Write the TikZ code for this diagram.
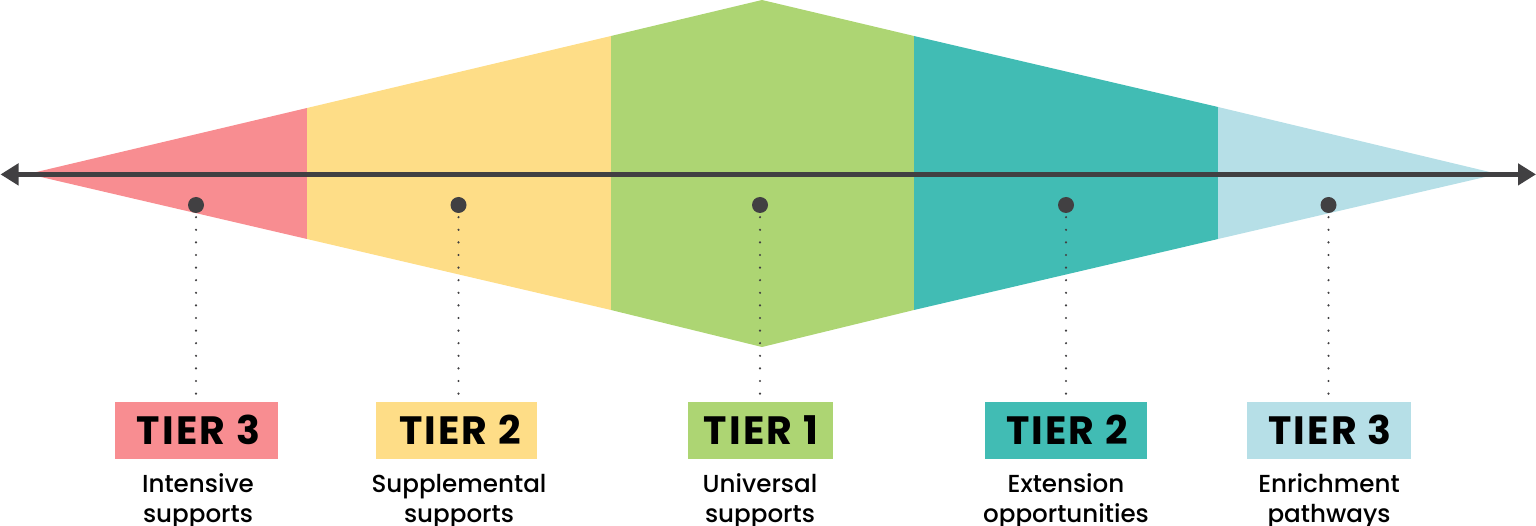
\documentclass[tikz,border=0pt]{standalone}
\usepackage{fontspec}
\setmainfont{Poppins}
\newfontfamily\tierfont[LetterSpace=5.5]{Poppins Bold}
\newfontfamily\capfont{Poppins Medium}
\usetikzlibrary{arrows.meta}
\definecolor{cred}{HTML}{F88D91}
\definecolor{cyel}{HTML}{FEDD87}
\definecolor{cgrn}{HTML}{ADD573}
\definecolor{ctea}{HTML}{41BCB4}
\definecolor{cblu}{HTML}{B6DFE7}
\definecolor{cdark}{HTML}{414042}
\tikzset{
  tierbox/.style={minimum height=57pt,inner sep=0pt,font=\fontsize{39.5}{39.5}\selectfont\tierfont,text=black},
  caption/.style={anchor=base,align=center,inner sep=0pt,font=\fontsize{24.6}{30}\selectfont\capfont,text=black},
  pin/.style={circle,fill=cdark,minimum size=16pt,inner sep=0pt},
  leader/.style={cdark,line width=2.4pt,line cap=round,dash pattern=on 0pt off 12.6pt,shorten >=5pt,shorten <=4pt},
  axis/.style={cdark,line width=5pt,{Triangle[length=18pt,width=21pt]}-{Triangle[length=18pt,width=21pt]}}
}
\begin{document}
\begin{tikzpicture}[x=1pt,y=-1pt]
\clip (0,0) rectangle (1536,526);
\fill[cred] (28,174) -- (307,108) -- (307,239) -- cycle;
\fill[cyel] (307,108) -- (611,36) -- (611,310) -- (307,239) -- cycle;
\fill[cgrn] (611,36) -- (762,0) -- (914,36) -- (914,310) -- (762,347) -- (611,310) -- cycle;
\fill[ctea] (914,36) -- (1218,107) -- (1218,239) -- (914,310) -- cycle;
\fill[cblu] (1218,107) -- (1498,174) -- (1218,239) -- cycle;
\coordinate (axl) at (0.5,174.4);
\coordinate (axr) at (1536,174.4);
\draw[axis] (axl) -- (axr);
\node[pin] (p1) at (196,205) {};
\node[pin] (p2) at (458.5,205) {};
\node[pin] (p3) at (760,205) {};
\node[pin] (p4) at (1066,205) {};
\node[pin] (p5) at (1328.5,205) {};
\node[tierbox,fill=cred,minimum width=163pt] (b1) at (196.5,430) {\hspace*{4pt}TIER 3};
\node[tierbox,fill=cyel,minimum width=161pt] (b2) at (456.5,430) {\hspace*{7pt}TIER 2};
\node[tierbox,fill=cgrn,minimum width=145pt] (b3) at (760.5,430) {\hspace*{1pt}TIER 1};
\node[tierbox,fill=ctea,minimum width=162pt] (b4) at (1066,430) {\hspace*{2pt}TIER 2};
\node[tierbox,fill=cblu,minimum width=164pt] (b5) at (1329,430) {\hspace*{2pt}TIER 3};
\draw[leader] (p1) -- (p1 |- b1.north);
\draw[leader] (p2) -- (p2 |- b2.north);
\draw[leader] (p3) -- (p3 |- b3.north);
\draw[leader] (p4) -- (p4 |- b4.north);
\draw[leader] (p5) -- (p5 |- b5.north);
\node[caption] (c1) at (198,522) {Intensive\\supports};
\node[caption] (c2) at (459,522) {Supplemental\\supports};
\node[caption] (c3) at (760,522) {Universal\\supports};
\node[caption] (c4) at (1066,522) {Extension\\opportunities};
\node[caption] (c5) at (1329,522) {Enrichment\\pathways};
\end{tikzpicture}
\end{document}
